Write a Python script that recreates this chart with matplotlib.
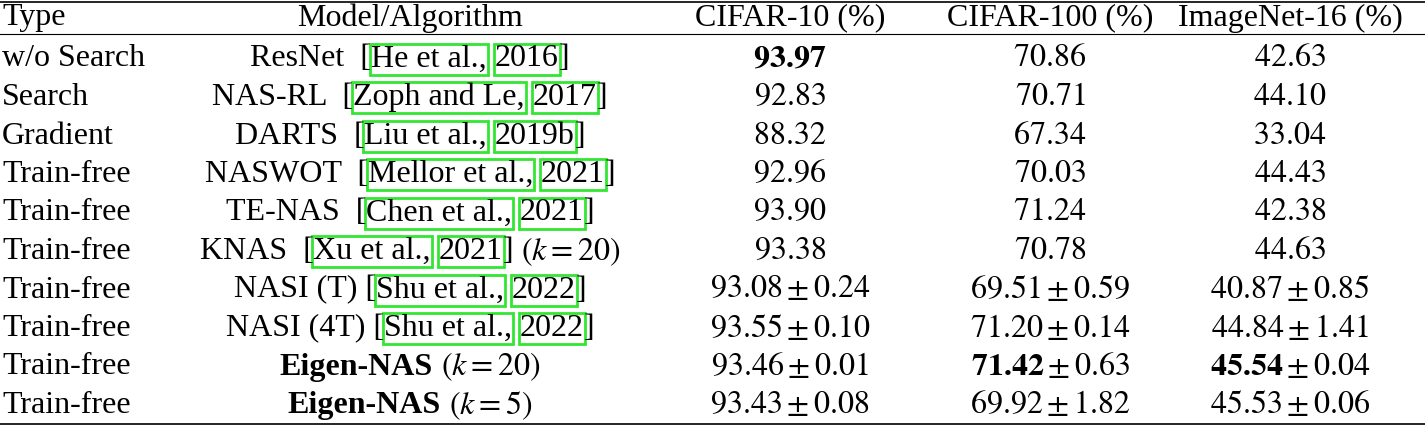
import matplotlib.pyplot as plt
from matplotlib.patches import Rectangle

plt.rcParams["font.family"] = ["Liberation Serif", "DejaVu Serif"]
plt.rcParams["mathtext.fontset"] = "stix"

HEADERS = ["Type", "Model/Algorithm", "CIFAR-10 (%)", "CIFAR-100 (%)", "ImageNet-16 (%)"]
TYPES = ["w/o Search", "Search", "Gradient", "Train-free", "Train-free", "Train-free",
         "Train-free", "Train-free", "Train-free", "Train-free"]
# model pieces: (text, bold, boxed)
MODELS = [
    [("ResNet  [", 0, 0), ("He et al.,", 0, 1), (" ", 0, 0), ("2016", 0, 1), ("]", 0, 0)],
    [("NAS-RL  [", 0, 0), ("Zoph and Le,", 0, 1), (" ", 0, 0), ("2017", 0, 1), ("]", 0, 0)],
    [("DARTS  [", 0, 0), ("Liu et al.,", 0, 1), (" ", 0, 0), ("2019b", 0, 1), ("]", 0, 0)],
    [("NASWOT  [", 0, 0), ("Mellor et al.,", 0, 1), (" ", 0, 0), ("2021", 0, 1), ("]", 0, 0)],
    [("TE-NAS  [", 0, 0), ("Chen et al.,", 0, 1), (" ", 0, 0), ("2021", 0, 1), ("]", 0, 0)],
    [("KNAS  [", 0, 0), ("Xu et al.,", 0, 1), (" ", 0, 0), ("2021", 0, 1), ("] ", 0, 0), ("$(k=20)$", 0, 0)],
    [("NASI (T) [", 0, 0), ("Shu et al.,", 0, 1), (" ", 0, 0), ("2022", 0, 1), ("]", 0, 0)],
    [("NASI (4T) [", 0, 0), ("Shu et al.,", 0, 1), (" ", 0, 0), ("2022", 0, 1), ("]", 0, 0)],
    [("Eigen-NAS", 1, 0), (" ", 0, 0), ("$(k=20)$", 0, 0)],
    [("Eigen-NAS", 1, 0), (" ", 0, 0), ("$(k=5)$", 0, 0)],
]
CIFAR10 = ["93.97", "92.83", "88.32", "92.96", "93.90", "93.38", "93.08", "93.55", "93.46", "93.43"]
CIFAR10_STD = [None, None, None, None, None, None, "0.24", "0.10", "0.01", "0.08"]
CIFAR100 = ["70.86", "70.71", "67.34", "70.03", "71.24", "70.78", "69.51", "71.20", "71.42", "69.92"]
CIFAR100_STD = [None, None, None, None, None, None, "0.59", "0.14", "0.63", "1.82"]
IMAGENET = ["42.63", "44.10", "33.04", "44.43", "42.38", "44.63", "40.87", "44.84", "45.54", "45.53"]
IMAGENET_STD = [None, None, None, None, None, None, "0.85", "1.41", "0.04", "0.06"]
BOLD = {(0, 0), (8, 1), (8, 2)}  # (row, dataset column)

W, H = 1425, 426
FS = 23
fig = plt.figure(figsize=(W / 100, H / 100), dpi=100)
ax = fig.add_axes([0, 0, 1, 1])
ax.set_xlim(0, W)
ax.set_ylim(H, 0)
ax.axis("off")
renderer = fig.canvas.get_renderer()
inv = ax.transData.inverted()


def draw_pieces(cx, y, pieces):
    arts = []
    for txt, bold, boxed in pieces:
        t = ax.text(0, y, txt, fontsize=FS, fontweight="bold" if bold else "normal",
                    va="center", ha="left")
        arts.append((t, boxed))
    widths = [t.get_window_extent(renderer).width for t, _ in arts]
    x = cx - sum(widths) / 2
    for (t, boxed), w in zip(arts, widths):
        t.set_x(x)
        if boxed:
            bb = t.get_window_extent(renderer)
            (x0, y0), (x1, y1) = inv.transform([(bb.x0, bb.y0), (bb.x1, bb.y1)])
            ax.add_patch(Rectangle((x0 - 1, y1 - 1), x1 - x0 + 2, y0 - y1 + 2,
                                   fill=False, ec="#33e633", lw=2))
        x += w


# rules
ax.plot([0, W], [2, 2], color="black", lw=1.2)
ax.plot([0, W], [34, 34], color="black", lw=0.8)
ax.plot([0, W], [424, 424], color="black", lw=1.2)

COLS = [410, 790, 1050, 1290]
ax.text(2, 18, HEADERS[0], fontsize=FS, va="center", ha="left")
for cx, h in zip(COLS, HEADERS[1:]):
    ax.text(cx, 18, h, fontsize=FS, va="center", ha="center")

for i in range(len(TYPES)):
    y = 59 + i * 38.5
    ax.text(2, y, TYPES[i], fontsize=FS, va="center", ha="left")
    draw_pieces(COLS[0], y, MODELS[i])
    for j, (vals, stds) in enumerate([(CIFAR10, CIFAR10_STD), (CIFAR100, CIFAR100_STD),
                                      (IMAGENET, IMAGENET_STD)]):
        v = r"\mathbf{%s}" % vals[i] if (i, j) in BOLD else vals[i]
        s = v if stds[i] is None else v + r" \pm " + stds[i]
        draw_pieces(COLS[j + 1], y, [("$" + s + "$", 0, 0)])

fig.savefig("out.png", dpi=100)
